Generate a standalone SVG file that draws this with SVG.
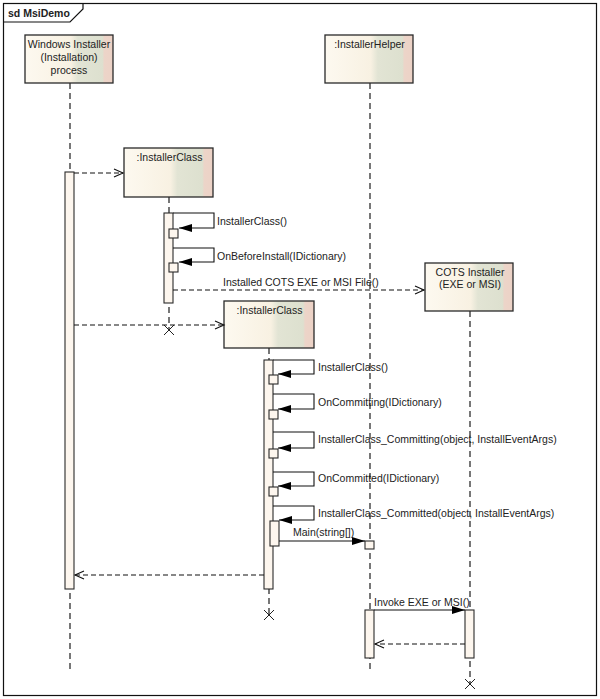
<svg xmlns="http://www.w3.org/2000/svg" width="600" height="699" viewBox="0 0 600 699">
<style>
text{font-family:"Liberation Sans",Arial,sans-serif;font-size:10.5px;fill:#222}
.c{text-anchor:middle}
.box{fill:url(#g);stroke:#2a2a2a;stroke-width:1.3}
.life{stroke:#555;stroke-width:1.6;stroke-dasharray:6,4;fill:none}
.bar{fill:#fdf6ee;stroke:#2a2a2a;stroke-width:1.1}
.self{fill:none;stroke:#111;stroke-width:1.1;marker-end:url(#fill)}
.msg{fill:none;stroke:#111;stroke-width:1.1;marker-end:url(#fill)}
.ret{fill:none;stroke:#111;stroke-width:1.1;stroke-dasharray:5,3;marker-end:url(#open)}
.x{stroke:#222;stroke-width:1;fill:none}
</style>
<defs>
<linearGradient id="g" x1="0" y1="0" x2="1" y2="0">
<stop offset="0" stop-color="#fdf9f0"/>
<stop offset="0.52" stop-color="#f8f1e2"/>
<stop offset="0.6" stop-color="#e2e4d4"/>
<stop offset="0.88" stop-color="#dde0cf"/>
<stop offset="0.9" stop-color="#ecd4c8"/>
<stop offset="1" stop-color="#ecd2c6"/>
</linearGradient>
<marker id="open" markerUnits="userSpaceOnUse" markerWidth="12" markerHeight="12" refX="10" refY="6" orient="auto">
<path d="M1,2 L10,6 L1,10" fill="none" stroke="#111" stroke-width="1.1"/>
</marker>
<marker id="fill" markerUnits="userSpaceOnUse" markerWidth="14" markerHeight="10" refX="13" refY="5" orient="auto">
<path d="M0,1 L13,5 L0,9 Z" fill="#000"/>
</marker>
</defs>
<rect width="600" height="699" fill="#fff"/>
<g id="frame">
<rect x="3.5" y="3.5" width="593" height="692" fill="none" stroke="#111" stroke-width="1.2"/>
<path d="M3.5,22 H70 L83,9 V3.5" fill="none" stroke="#111" stroke-width="1.2"/>
<text x="8" y="17" style="font-weight:bold">sd MsiDemo</text>
</g>
<g id="lifelines">
<line class="life" x1="70" y1="83" x2="70" y2="670"/>
<line class="life" x1="370" y1="83" x2="370" y2="672"/>
<line class="life" x1="169" y1="197" x2="169" y2="330"/>
<line class="life" x1="470" y1="311" x2="470" y2="684"/>
<line class="life" x1="269" y1="348" x2="269" y2="615"/>
</g>
<g id="windowsInstaller">
<rect class="box" x="25" y="35" width="88" height="48"/>
<text class="c" x="69" y="48">Windows Installer</text>
<text class="c" x="69" y="61">(Installation)</text>
<text class="c" x="69" y="74">process</text>
<rect class="bar" x="65" y="172" width="9" height="417"/>
</g>
<g id="installerHelper">
<rect class="box" x="325" y="35" width="88" height="48"/>
<text class="c" x="369.5" y="48">:InstallerHelper</text>
<rect class="bar" x="365" y="541" width="9" height="8"/>
<rect class="bar" x="365" y="610" width="9" height="48"/>
</g>
<g id="installerClass1">
<rect class="box" x="124" y="148" width="89" height="49"/>
<text class="c" x="169.5" y="161">:InstallerClass</text>
<rect class="bar" x="164" y="213" width="9" height="90"/>
<rect class="bar" x="169" y="229" width="9" height="9"/>
<rect class="bar" x="169" y="263" width="9" height="9"/>
<path class="x" d="M164,325 L174,335 M174,325 L164,335"/>
</g>
<g id="cotsInstaller">
<rect class="box" x="425" y="263" width="88" height="48"/>
<text class="c" x="470" y="276">COTS Installer</text>
<text class="c" x="470" y="288">(EXE or MSI)</text>
<rect class="bar" x="465" y="610" width="9" height="48"/>
<path class="x" d="M465,679 L475,689 M475,679 L465,689"/>
</g>
<g id="installerClass2">
<rect class="box" x="224" y="301" width="90" height="47"/>
<text class="c" x="269.5" y="314">:InstallerClass</text>
<rect class="bar" x="264" y="360" width="9" height="229"/>
<rect class="bar" x="269" y="375" width="9" height="9"/>
<rect class="bar" x="269" y="410" width="9" height="9"/>
<rect class="bar" x="269" y="449" width="9" height="9"/>
<rect class="bar" x="269" y="487" width="9" height="9"/>
<rect class="bar" x="270" y="521" width="9" height="25"/>
<path class="x" d="M264,610 L274,620 M274,610 L264,620"/>
</g>
<g id="connectors">
<path class="ret" d="M74,173 H123"/>
<path class="self" d="M173,213 H214 V228 H179"/>
<text x="217" y="225">InstallerClass()</text>
<path class="self" d="M173,248 H214 V262 H179"/>
<text x="217" y="260">OnBeforeInstall(IDictionary)</text>
<path class="ret" d="M173,290 H424"/>
<text x="223" y="286">Installed COTS EXE or MSI File()</text>
<path class="ret" d="M74,325 H224"/>
<path class="self" d="M273,360 H314 V374 H278"/>
<text x="318" y="371">InstallerClass()</text>
<path class="self" d="M273,394 H314 V409 H278"/>
<text x="318" y="406">OnCommitting(IDictionary)</text>
<path class="self" d="M273,432 H314 V448 H278"/>
<text x="318" y="443">InstallerClass_Committing(object, InstallEventArgs)</text>
<path class="self" d="M273,472 H314 V486 H278"/>
<text x="318" y="482">OnCommitted(IDictionary)</text>
<path class="self" d="M273,506 H314 V520 H279"/>
<text x="318" y="517">InstallerClass_Committed(object, InstallEventArgs)</text>
<path class="msg" d="M279,541 H365"/>
<text x="293" y="536">Main(string[])</text>
<path class="ret" d="M264,575 H75"/>
<path class="msg" d="M374,610 H465"/>
<text x="374" y="606">Invoke EXE or MSI()</text>
<path class="ret" d="M465,644 H375"/>
</g>
</svg>
